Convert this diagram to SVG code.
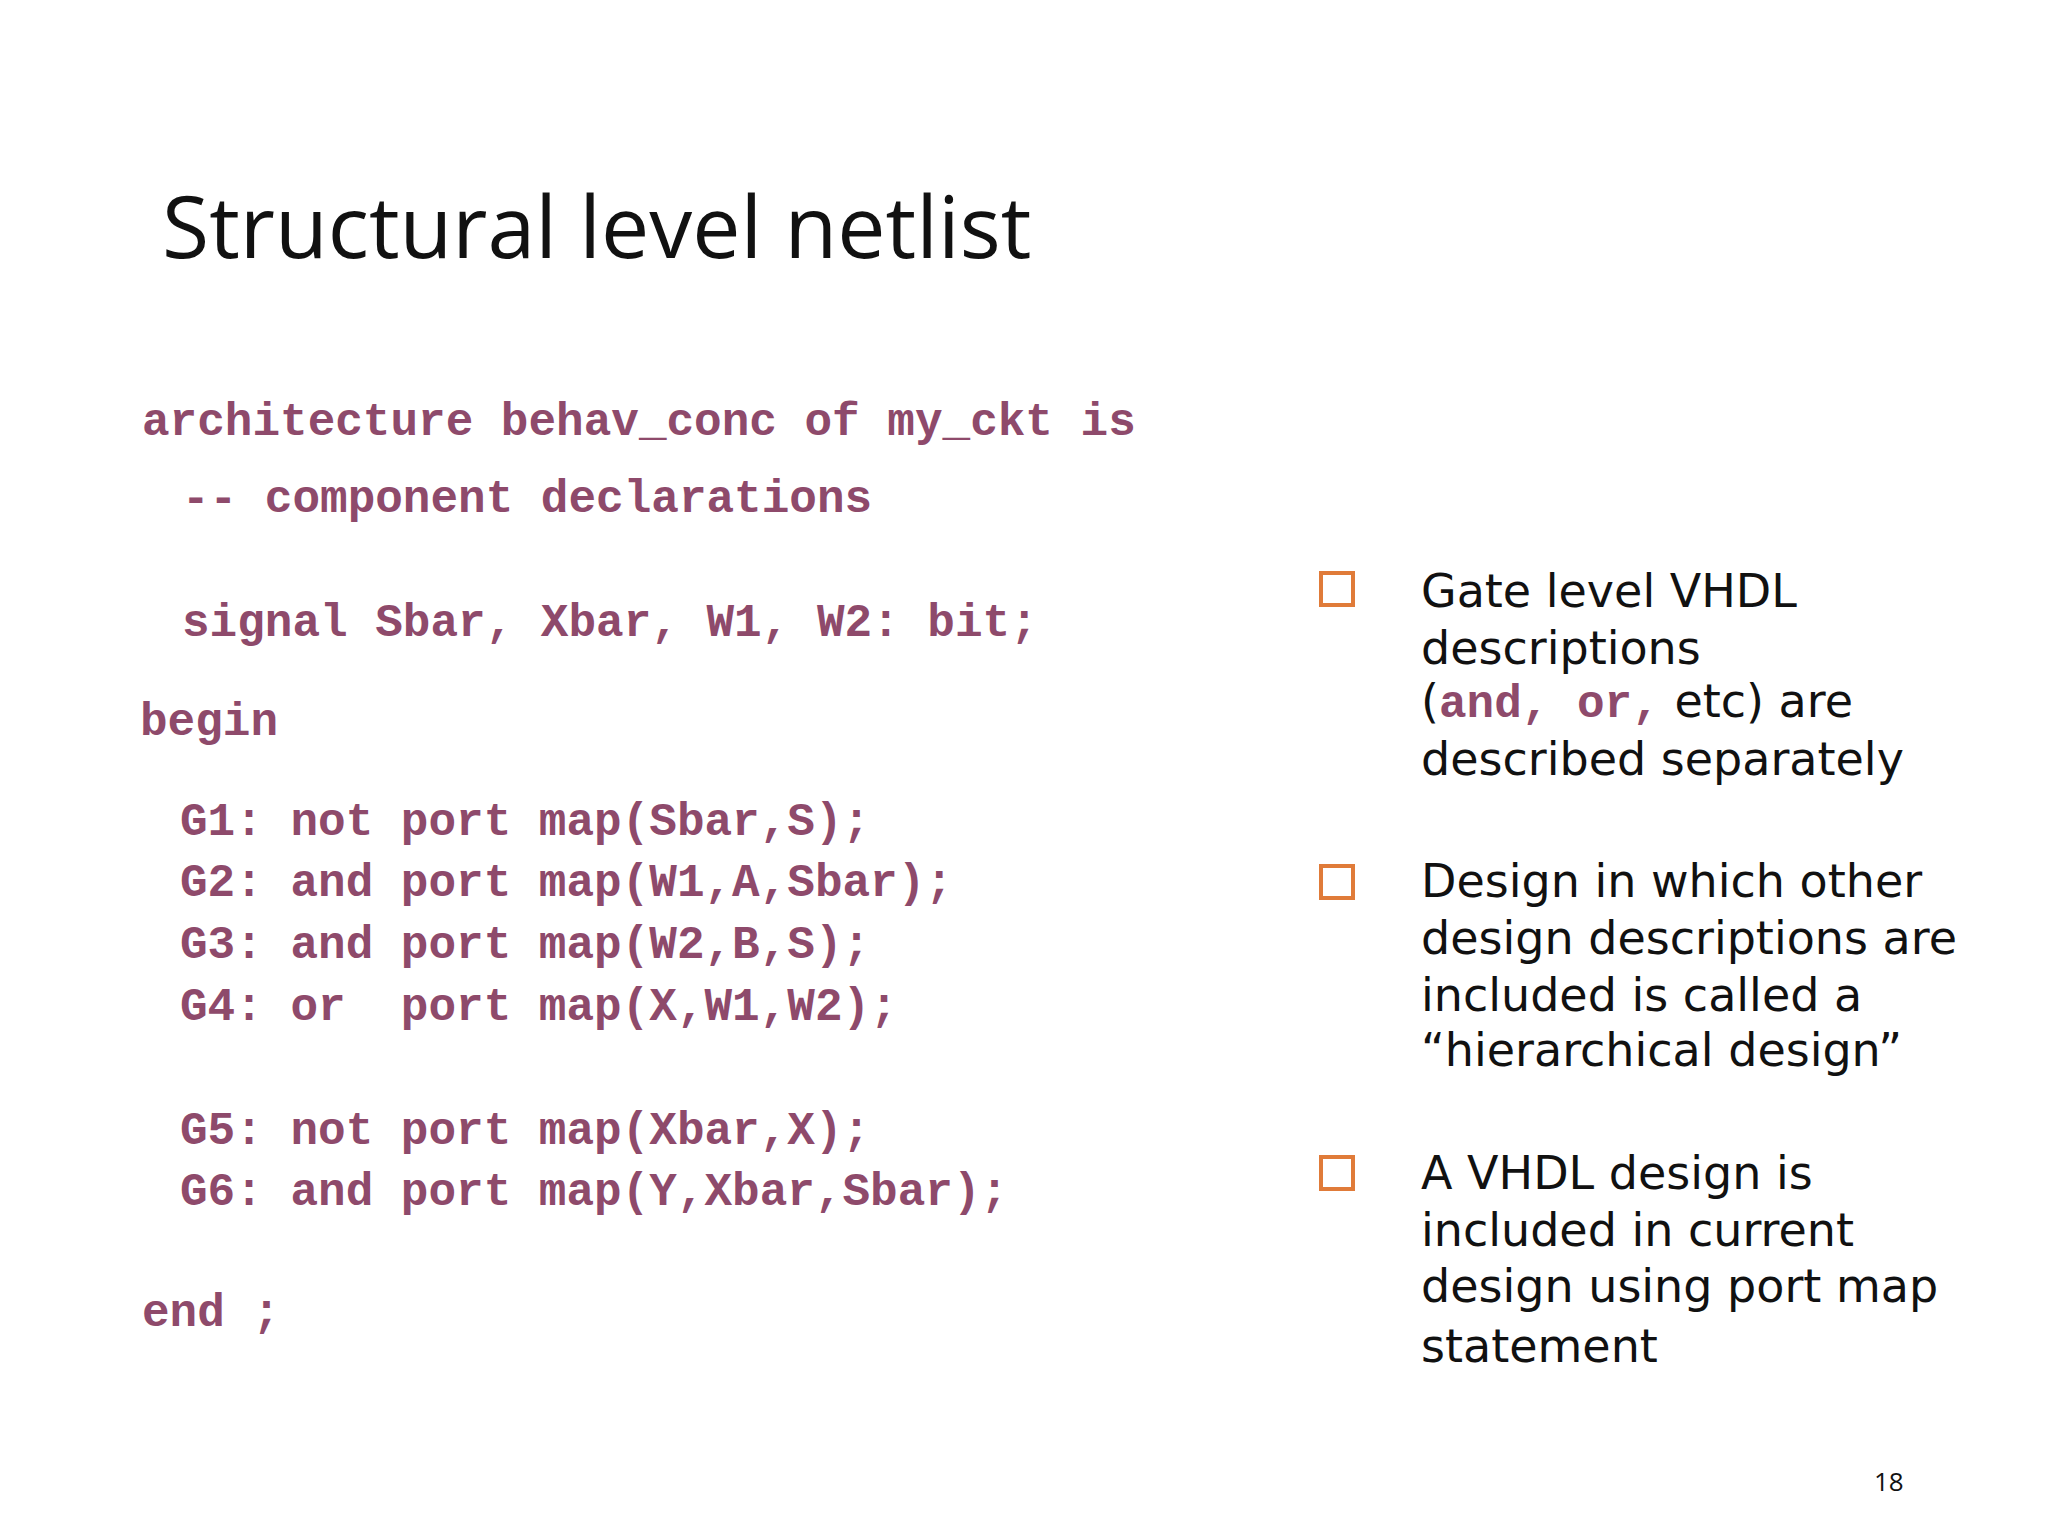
<svg xmlns="http://www.w3.org/2000/svg" width="2048" height="1536" viewBox="0 0 2048 1536">
<style>
.code{font-family:"Liberation Mono","Courier New",monospace;font-weight:bold;font-size:46px;fill:#8E4A6B;white-space:pre}
.b{font-family:"DejaVu Sans",Verdana,sans-serif;font-size:46px;fill:#111}
.sq{fill:none;stroke:#E07B39;stroke-width:4}
</style>
<rect width="2048" height="1536" fill="#fff"/>
<text x="162" y="258" font-family="Open Sans,'Liberation Sans',sans-serif" font-size="86" fill="#111">Structural level netlist</text>
<g id="code">
<text class="code" x="142" y="435">architecture behav_conc of my_ckt is</text>
<text class="code" x="182" y="512">-- component declarations</text>
<text class="code" x="182" y="636">signal Sbar, Xbar, W1, W2: bit;</text>
<text class="code" x="140" y="735">begin</text>
<text class="code" x="180" y="835">G1: not port map(Sbar,S);</text>
<text class="code" x="180" y="896">G2: and port map(W1,A,Sbar);</text>
<text class="code" x="180" y="958">G3: and port map(W2,B,S);</text>
<text class="code" x="180" y="1020">G4: or  port map(X,W1,W2);</text>
<text class="code" x="180" y="1144">G5: not port map(Xbar,X);</text>
<text class="code" x="180" y="1205">G6: and port map(Y,Xbar,Sbar);</text>
<text class="code" x="142" y="1326">end ;</text>
</g>
<g id="bullet1">
<rect class="sq" x="1321" y="573" width="32" height="32"/>
<text class="b" x="1421" y="607">Gate level VHDL</text>
<text class="b" x="1421" y="664">descriptions</text>
<text class="b" x="1421" y="717">(<tspan class="code">and, or,</tspan> etc) are</text>
<text class="b" x="1421" y="775">described separately</text>
</g>
<g id="bullet2">
<rect class="sq" x="1321" y="866" width="32" height="32"/>
<text class="b" x="1421" y="897">Design in which other</text>
<text class="b" x="1421" y="954">design descriptions are</text>
<text class="b" x="1421" y="1011">included is called a</text>
<text class="b" x="1421" y="1066">“hierarchical design”</text>
</g>
<g id="bullet3">
<rect class="sq" x="1321" y="1157" width="32" height="32"/>
<text class="b" x="1421" y="1189">A VHDL design is</text>
<text class="b" x="1421" y="1246">included in current</text>
<text class="b" x="1421" y="1302">design using port map</text>
<text class="b" x="1421" y="1362">statement</text>
</g>
<text x="1874" y="1491" font-family="Open Sans,'Liberation Sans',sans-serif" font-size="26" fill="#111">18</text>
</svg>
